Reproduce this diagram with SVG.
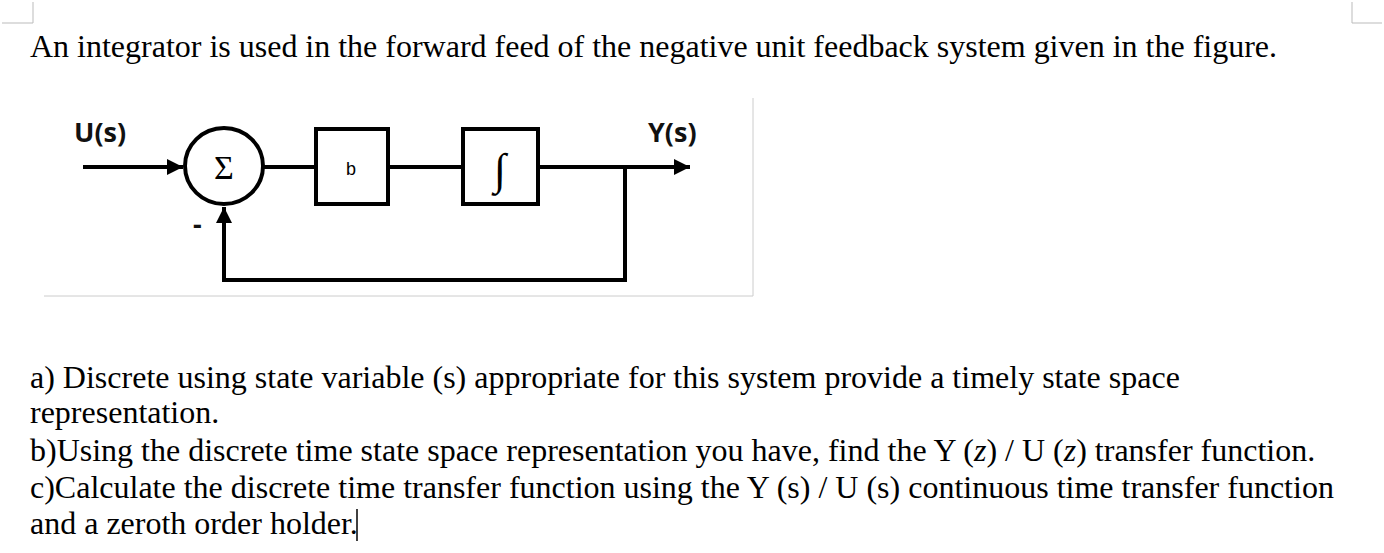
<svg xmlns="http://www.w3.org/2000/svg" width="1384" height="553" viewBox="0 0 1384 553">
<style>
.t{font-family:"Liberation Serif",serif;font-size:32px;fill:#000}
.l{font-family:"Open Sans","DejaVu Sans",sans-serif;font-size:27px;font-weight:bold;fill:#111}
.w{stroke:#000;stroke-width:4;fill:none}
</style>
<defs><marker id="a" viewBox="0 0 10 10" refX="10" refY="5" markerWidth="4" markerHeight="4" markerUnits="strokeWidth" orient="auto"><path d="M0,0L10,5L0,10z" fill="#000"/></marker></defs>
<rect width="1384" height="553" fill="#fff"/>
<path d="M2,23H33V2M1382,23H1352V2" stroke="#bbb" fill="none"/>
<text class="t" x="30" y="57" textLength="1247">An integrator is used in the forward feed of the negative unit feedback system given in the figure.</text>
<path d="M44,296H753V98" stroke="#ccc" fill="none"/>
<text class="l" x="74" y="142">U(s)</text>
<text class="l" x="648" y="142">Y(s)</text>
<g id="connectors" class="w">
<path d="M83,167H183" marker-end="url(#a)"/>
<path d="M263,167H314"/>
<path d="M389,167H462"/>
<path d="M539,167H690" marker-end="url(#a)"/>
<path d="M625,167V280H224V207" marker-end="url(#a)"/>
</g>
<text x="193" y="234" class="l">-</text>
<g id="sum"><ellipse cx="224" cy="166" rx="39" ry="38" class="w"/><text x="224" y="179" text-anchor="middle" font-family="Liberation Serif,serif" font-size="34">Σ</text></g>
<g id="b"><rect x="316" y="129" width="72" height="75" class="w"/><text x="351" y="175" text-anchor="middle" font-family="Liberation Sans,sans-serif" font-size="18">b</text></g>
<g id="int"><rect x="463" y="129" width="75" height="75" class="w"/><text x="500" y="184" text-anchor="middle" font-family="Liberation Serif,serif" font-size="44">∫</text></g>
<text class="t" x="30" y="388">a) Discrete using state variable (s) appropriate for this system provide a timely state space</text>
<text class="t" x="30" y="423">representation.</text>
<text class="t" x="30" y="461">b)Using the discrete time state space representation you have, find the Y (<tspan font-style="italic">z</tspan>) / U (<tspan font-style="italic">z</tspan>) transfer function.</text>
<text class="t" x="30" y="498">c)Calculate the discrete time transfer function using the Y (s) / U (s) continuous time transfer function</text>
<text class="t" x="30" y="534">and a zeroth order holder.</text>
<path d="M357,509V541" stroke="#000" stroke-width="1.5"/>
</svg>
